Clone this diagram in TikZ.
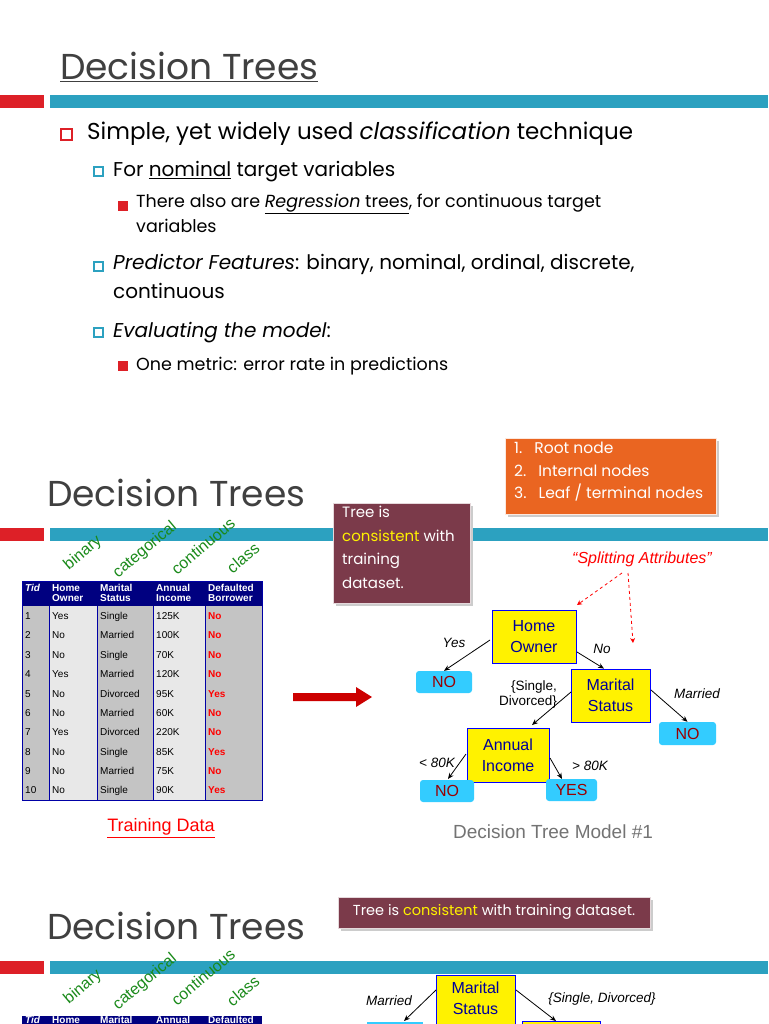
\documentclass[tikz,border=0pt]{standalone}
\usepackage{fontspec}
\setmainfont{Poppins}
\newfontfamily\arial{Liberation Sans}
\usetikzlibrary{arrows.meta}
\definecolor{teal}{HTML}{2CA1C0}
\definecolor{redbar}{HTML}{DD2027}
\definecolor{maroon}{HTML}{7B3A4A}
\definecolor{orng}{HTML}{EA6521}
\definecolor{navy}{HTML}{000080}
\definecolor{cyanleaf}{HTML}{33CCFF}
\definecolor{grn}{HTML}{1A8A1A}
\definecolor{titlegray}{HTML}{404040}
\definecolor{lightc}{HTML}{E8E8E8}
\definecolor{darkc}{HTML}{C4C4C4}
\tikzset{
 title/.style={anchor=west,font=\fontsize{36}{40}\selectfont,text=titlegray,inner sep=0},
 bul/.style={anchor=west,inner sep=0,text=black},
 ybox/.style={draw=blue,fill=yellow,thick,font=\arial\fontsize{16}{19}\selectfont,align=center,text=navy!80!blue,inner sep=0},
 leaf/.style={fill=cyanleaf,rounded corners=3pt,font=\arial\fontsize{16}{18}\selectfont,text=red!60!black,inner sep=0},
 edge/.style={-{Stealth[length=6pt,width=5pt]},thick},
 elab/.style={font=\arial\itshape\fontsize{13.5}{15}\selectfont,inner sep=0},
 glab/.style={font=\arial\fontsize{16}{17}\selectfont,text=grn,rotate=40,inner sep=0},
 cell/.style={font=\arial\fontsize{10}{11}\selectfont,anchor=west,inner sep=0},
 hcell/.style={font=\arial\bfseries\fontsize{10}{10}\selectfont,anchor=north west,align=left,text=white,inner sep=0},
}
\begin{document}
\begin{tikzpicture}[x=1pt,y=-1pt]
\useasboundingbox (0,0) rectangle (768,1024);
\fill[white] (0,0) rectangle (768,1024);
% ---------- slide 1
\node[title] (t1) at (60,67) {\underline{Decision Trees}};
\fill[redbar] (0,95) rectangle (44,108);
\fill[teal] (50,95) rectangle (768,108);
\draw[redbar,line width=1.3pt] (61,129) rectangle (72,140);
\node[bul,font=\fontsize{23}{26}\selectfont] (b1) at (87,134) {Simple, yet widely used \textit{classification} technique};
\draw[teal,line width=2.2pt] (94,167) rectangle (103,176);
\node[bul,font=\fontsize{20}{24}\selectfont] (b2) at (113,172) {For \underline{nominal} target variables};
\fill[redbar] (118,201) rectangle (128,211);
\node[bul,font=\fontsize{17.5}{25}\selectfont,align=left,anchor=north west] (b3) at (136,194) {There also are \underline{\textit{Regression} trees}, for continuous target\\variables};
\draw[teal,line width=2.2pt] (94,262) rectangle (103,271);
\node[bul,font=\fontsize{20}{29}\selectfont,align=left,anchor=north west] (b4) at (113,254) {\textit{Predictor Features}: binary, nominal, ordinal, discrete,\\continuous};
\draw[teal,line width=2.2pt] (94,328) rectangle (103,337);
\node[bul,font=\fontsize{20}{24}\selectfont] (b5) at (113,333) {\textit{Evaluating the model}:};
\fill[redbar] (118,361) rectangle (128,371);
\node[bul,font=\fontsize{17.5}{22}\selectfont] (b6) at (136,366) {One metric: error rate in predictions};
% ---------- slide 2
\node[title] (t2) at (47,493) {Decision Trees};
\fill[redbar] (0,528) rectangle (44,541);
\fill[teal] (50,528) rectangle (768,541);
\fill[gray!40] (508,441) rectangle (719,517);
\node[draw=white!85!orng,line width=1pt,fill=orng,minimum width=211,minimum height=76,anchor=north west] (ob) at (505,438) {};
\node[anchor=north west,text=white,font=\fontsize{15.5}{22.5}\selectfont,align=left,inner sep=0] (ot) at (514,442) {1.\hspace{12pt}Root node\\2.\hspace{12pt}Internal nodes\\3.\hspace{12pt}Leaf / terminal nodes};
\fill[gray!40] (336,506) rectangle (473,606);
\node[draw=white!80!maroon,line width=1pt,fill=maroon,minimum width=137,minimum height=100,anchor=north west] (mb) at (333,503) {};
\node[anchor=north west,text=white,font=\fontsize{15}{23.5}\selectfont,align=left,inner sep=0] (mt) at (342,506) {Tree is\\\textcolor{yellow}{consistent} with\\training\\dataset.};
% green labels
\node[glab] (g1) at (83,553) {binary};
\node[glab] (g2) at (145,550) {categorical};
\node[glab] (g3) at (203,546) {continuous};
\node[glab] (g4) at (243,558) {class};
% table
\fill[navy] (22,581) rectangle (262,606);
\fill[darkc] (22,606) rectangle (49,800);
\fill[lightc] (49,606) rectangle (97,800);
\fill[darkc] (97,606) rectangle (153,800);
\fill[lightc] (153,606) rectangle (205,800);
\fill[darkc] (205,606) rectangle (262,800);
\foreach \x in {49,97,153,205} \draw[navy!70!blue,thick] (\x,606) -- (\x,800);
\draw[navy!70!blue,thick] (22,581) rectangle (262,800);
\node[hcell,font=\arial\bfseries\itshape\fontsize{10}{10}\selectfont] (h0) at (25,584) {Tid};
\node[hcell] (h1) at (52,584) {Home\\Owner};
\node[hcell] (h2) at (100,584) {Marital\\Status};
\node[hcell] (h3) at (156,584) {Annual\\Income};
\node[hcell] (h4) at (208,584) {Defaulted\\Borrower};
\foreach \i/\a/\b/\c/\d in {1/Yes/Single/125K/No,2/No/Married/100K/No,3/No/Single/70K/No,4/Yes/Married/120K/No,5/No/Divorced/95K/Yes,6/No/Married/60K/No,7/Yes/Divorced/220K/No,8/No/Single/85K/Yes,9/No/Married/75K/No,10/No/Single/90K/Yes}{
 \pgfmathsetmacro\yy{596.5+19.35*\i}
 \node[cell,text height=7.5pt,text depth=0pt] at (25,\yy) {\i};
 \node[cell,text height=7.5pt,text depth=0pt] at (52,\yy) {\a};
 \node[cell,text height=7.5pt,text depth=0pt] at (100,\yy) {\b};
 \node[cell,text height=7.5pt,text depth=0pt] at (156,\yy) {\c};
 \node[cell,text height=7.5pt,text depth=0pt,text=red,font=\arial\bfseries\fontsize{10}{11}\selectfont] at (208,\yy) {\d};
}
\node[font=\arial\fontsize{18}{20}\selectfont,text=red,inner sep=0] (td) at (161,828) {\underline{Training Data}};
% red arrow
\fill[red!80!black] (293,693) -- (356,693) -- (356,687) -- (372,697) -- (356,707) -- (356,701) -- (293,701) -- cycle;
% tree
\node[ybox,minimum width=84,minimum height=53] (ho) at (534,636.5) {Home\\[2pt]Owner};
\node[ybox,minimum width=79,minimum height=53] (ms) at (610.5,695.5) {Marital\\[2pt]Status};
\node[ybox,minimum width=82,minimum height=54] (ai) at (508,755) {Annual\\[2pt]Income};
\node[leaf,minimum width=56,minimum height=22] (n1) at (444,682) {NO};
\node[leaf,minimum width=57,minimum height=23] (n2) at (687.5,733.5) {NO};
\node[leaf,minimum width=54,minimum height=22] (n3) at (447,791) {NO};
\node[leaf,minimum width=51,minimum height=22] (y1) at (571.5,790) {YES};
\coordinate (hoL) at (490,640);
\coordinate (hoR) at (577,652);
\coordinate (msL) at (571,692);
\coordinate (msR) at (651,690);
\coordinate (aiL) at (466,754);
\coordinate (aiR) at (550,758);
\draw[edge] (hoL) -- (n1.north);
\draw[edge] (hoR) -- (ms.north west -| 604,669);
\draw[edge] (msL) -- (532,725);
\draw[edge] (msR) -- (n2.north);
\draw[edge] (aiL) -- (448,779);
\draw[edge] (aiR) -- (562,779);
\node[elab] (l1) at (454,643) {Yes};
\node[elab] (l2) at (602,649) {No};
\node[elab,font=\arial\fontsize{13.5}{15}\selectfont,align=right,anchor=east] (l3) at (557,695) {\{Single,\\Divorced\}};
\node[elab] (l4) at (697,694) {Married};
\node[elab] (l5) at (437,763) {< 80K};
\node[elab] (l6) at (590,766) {> 80K};
\node[font=\arial\fontsize{19}{21}\selectfont,text=gray!90!black,inner sep=0] (dtm) at (553,832) {Decision Tree Model \#1};
\node[font=\arial\itshape\fontsize{16}{18}\selectfont,text=red,inner sep=0] (sa) at (642,559) {“Splitting Attributes”};
\coordinate (sa1) at (622,573);
\coordinate (sa2) at (628,573);
\draw[red,dashed,thick,-{Stealth[length=5pt,width=5pt]}] (sa1) -- (577,605);
\draw[red,dashed,thick,-{Stealth[length=5pt,width=5pt]}] (sa2) -- (633,643);
% ---------- slide 3
\node[title] (t3) at (47,926) {Decision Trees};
\fill[gray!40] (341,900) rectangle (653,931);
\node[draw=white!80!maroon,line width=1pt,fill=maroon,minimum width=312,minimum height=31,anchor=north west] (mb2) at (338,897) {};
\node[text=white,font=\fontsize{14.5}{15}\selectfont,inner sep=0] (mt2) at (494,912) {Tree is \textcolor{yellow}{consistent} with training dataset.};
\fill[redbar] (0,961) rectangle (44,974);
\fill[teal] (50,961) rectangle (768,974);
\node[glab] (g5) at (83,987) {binary};
\node[glab] (g6) at (145,982) {categorical};
\node[glab] (g7) at (203,977) {continuous};
\node[glab] (g8) at (243,991) {class};
\fill[navy] (22,1016) rectangle (262,1024);
\node[hcell,font=\arial\bfseries\itshape\fontsize{10}{10}\selectfont] at (25,1016) {Tid};
\node[hcell] at (52,1016) {Home};
\node[hcell] at (100,1016) {Marital};
\node[hcell] at (156,1016) {Annual};
\node[hcell] at (208,1016) {Defaulted};
\node[ybox,minimum width=79,minimum height=60,anchor=north west] (ms2) at (436,975) {};
\node[font=\arial\fontsize{16}{19}\selectfont,text=navy!80!blue,align=center,inner sep=0,anchor=north] (ms2t) at (475.5,982) {Marital\\[2pt]Status};
\fill[cyanleaf] (367,1022) rectangle (423,1026);
\draw[blue,thick,fill=yellow] (522,1021) rectangle (600,1030);
\coordinate (ms2L) at (436,990);
\coordinate (ms2R) at (516,990);
\draw[edge] (ms2L) -- (404,1021);
\draw[edge] (ms2R) -- (556,1021);
\node[elab] (m1) at (389,1001) {Married};
\node[elab] (m2) at (602,999) {\{Single, Divorced\}};
\end{tikzpicture}
\end{document}
